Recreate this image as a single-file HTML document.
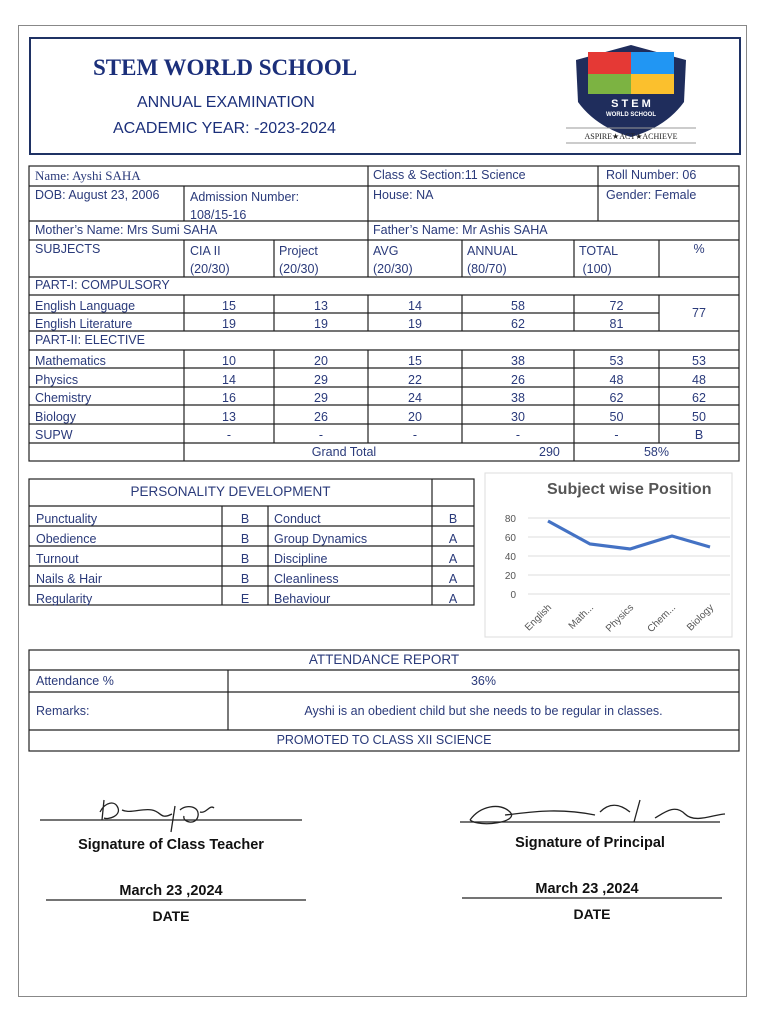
<!DOCTYPE html>
<html><head><style>
body{margin:0;width:768px;height:1024px;background:#fff;position:relative;font-family:"Liberation Sans",sans-serif;color:#1f2d6b;overflow:hidden}
.a{position:absolute}
.t{font-size:12.5px;color:#2a3a7a;white-space:nowrap}
.c{text-align:center}
</style></head><body>
<div class="a" style="left:18px;top:25px;width:727px;height:970px;border:1.5px solid #888"></div>
<div class="a" style="left:29px;top:37px;width:708px;height:114px;border:2px solid #1f3264"></div>
<div class="a" style="left:93px;top:55px;font-family:'Liberation Serif',serif;font-size:23px;font-weight:bold;color:#1b2f7a">STEM WORLD SCHOOL</div>
<div class="a" style="left:137px;top:94px;font-size:16px;color:#1b2f7a">ANNUAL EXAMINATION</div>
<div class="a" style="left:113px;top:120px;font-size:16px;color:#1b2f7a">ACADEMIC YEAR: -2023-2024</div>
<svg class="a" style="left:566px;top:42px" width="130" height="104">
<path d="M10 18 L65 3 L120 18 L118 60 Q100 85 65 95 Q30 85 12 60Z" fill="#1f2d5c"/>
<rect x="22" y="10" width="43" height="22" fill="#e53935"/><rect x="65" y="10" width="43" height="22" fill="#2196f3"/>
<rect x="22" y="32" width="43" height="20" fill="#7cb342"/><rect x="65" y="32" width="43" height="20" fill="#fbc02d"/>
<text x="65" y="65" font-size="11" font-weight="bold" fill="#fff" text-anchor="middle" font-family="Liberation Sans">S T E M</text>
<text x="65" y="74" font-size="6" font-weight="bold" fill="#fff" text-anchor="middle" font-family="Liberation Sans">WORLD SCHOOL</text>
<line x1="0" y1="86" x2="130" y2="86" stroke="#999"/>
<text x="65" y="97" font-size="8" fill="#222" text-anchor="middle" font-family="Liberation Serif">ASPIRE★ACT★ACHIEVE</text>
<line x1="0" y1="101" x2="130" y2="101" stroke="#999"/>
</svg>

<svg class="a" style="left:0;top:0" width="768" height="1024">
<g stroke="#222" stroke-width="1.2" fill="none">
<rect x="29" y="166" width="710" height="295"/>
<line x1="29" y1="186" x2="739" y2="186"/><line x1="29" y1="221" x2="739" y2="221"/><line x1="29" y1="240" x2="739" y2="240"/>
<line x1="29" y1="277" x2="739" y2="277"/><line x1="29" y1="295" x2="739" y2="295"/><line x1="29" y1="313" x2="659" y2="313"/>
<line x1="29" y1="331" x2="739" y2="331"/><line x1="29" y1="350" x2="739" y2="350"/><line x1="29" y1="368" x2="739" y2="368"/>
<line x1="29" y1="387" x2="739" y2="387"/><line x1="29" y1="405" x2="739" y2="405"/><line x1="29" y1="424" x2="739" y2="424"/>
<line x1="29" y1="443" x2="739" y2="443"/>
<line x1="368" y1="166" x2="368" y2="277"/><line x1="598" y1="166" x2="598" y2="221"/><line x1="184" y1="186" x2="184" y2="221"/>
<line x1="184" y1="240" x2="184" y2="277"/><line x1="274" y1="240" x2="274" y2="277"/><line x1="462" y1="240" x2="462" y2="277"/><line x1="574" y1="240" x2="574" y2="277"/><line x1="659" y1="240" x2="659" y2="277"/>
<path d="M184 295V331M274 295V331M368 295V331M462 295V331M574 295V331M659 295V331"/>
<path d="M184 350V443M274 350V443M368 350V443M462 350V443M574 350V443M659 350V443"/>
<path d="M184 443V461M574 443V461"/>
<rect x="29" y="479" width="445" height="126"/>
<line x1="29" y1="506" x2="474" y2="506"/><line x1="29" y1="526" x2="474" y2="526"/><line x1="29" y1="546" x2="474" y2="546"/><line x1="29" y1="566" x2="474" y2="566"/><line x1="29" y1="586" x2="474" y2="586"/>
<line x1="432" y1="479" x2="432" y2="605"/><line x1="222" y1="506" x2="222" y2="605"/><line x1="268" y1="506" x2="268" y2="605"/>
<rect x="29" y="650" width="710" height="101"/>
<line x1="29" y1="670" x2="739" y2="670"/><line x1="29" y1="692" x2="739" y2="692"/><line x1="29" y1="730" x2="739" y2="730"/>
<line x1="228" y1="670" x2="228" y2="730"/>
<line x1="40" y1="820" x2="302" y2="820"/><line x1="460" y1="822" x2="720" y2="822"/>
<line x1="46" y1="900" x2="306" y2="900"/><line x1="462" y1="898" x2="722" y2="898"/>
</g>
<rect x="485" y="473" width="247" height="164" fill="none" stroke="#ddd"/>
<g stroke="#ddd"><line x1="528" y1="518" x2="730" y2="518"/><line x1="528" y1="537" x2="730" y2="537"/><line x1="528" y1="556" x2="730" y2="556"/><line x1="528" y1="575" x2="730" y2="575"/><line x1="528" y1="594" x2="730" y2="594"/></g>
<polyline points="548,521 590,544 630,549 672,536 710,547" fill="none" stroke="#4472c4" stroke-width="3.2"/>
<g font-family="Liberation Sans" font-size="10" fill="#555">
<text x="516" y="522" text-anchor="end">80</text><text x="516" y="541" text-anchor="end">60</text><text x="516" y="560" text-anchor="end">40</text><text x="516" y="579" text-anchor="end">20</text><text x="516" y="598" text-anchor="end">0</text>
<text transform="translate(552,608) rotate(-45)" text-anchor="end">English</text>
<text transform="translate(594,608) rotate(-45)" text-anchor="end">Math...</text>
<text transform="translate(634,608) rotate(-45)" text-anchor="end">Physics</text>
<text transform="translate(676,608) rotate(-45)" text-anchor="end">Chem...</text>
<text transform="translate(714,608) rotate(-45)" text-anchor="end">Biology</text>
</g>
<text x="547" y="494" font-family="Liberation Sans" font-size="16" font-weight="bold" fill="#555">Subject wise Position</text>
<path d="M100 812c5-10 15-12 18-4s-10 12-14 10M104 800l-2 20M122 810c8 4 20-2 30 0s8 10 20 4M175 806l-4 26M180 810c6-6 20-4 18 6s-16 6-14 0M200 812c6 2 10-8 14-4" stroke="#222" fill="none" stroke-width="1.3"/>
<path d="M470 820c10-14 30-18 40-8s-30 16-40 8M505 815c20-2 50-8 90 0M600 812c10-10 20-8 30 0M640 800l-6 22M655 818c10-6 20-14 30-4s30 0 40 0" stroke="#222" fill="none" stroke-width="1.3"/>
</svg>

<div class="a t" style="left:35px;top:168px;font-family:'Liberation Serif',serif;font-size:13px">Name: Ayshi SAHA</div>
<div class="a t" style="left:373px;top:168px">Class &amp; Section:11 Science</div>
<div class="a t" style="left:606px;top:168px">Roll Number: 06</div>
<div class="a t" style="left:35px;top:188px">DOB: August 23, 2006</div>
<div class="a t" style="left:190px;top:188px;line-height:18px">Admission Number:<br>108/15-16</div>
<div class="a t" style="left:373px;top:188px">House: NA</div>
<div class="a t" style="left:606px;top:188px">Gender: Female</div>
<div class="a t" style="left:35px;top:223px">Mother’s Name: Mrs Sumi SAHA</div>
<div class="a t" style="left:373px;top:223px">Father’s Name: Mr Ashis SAHA</div>
<div class="a t" style="left:35px;top:242px">SUBJECTS</div>
<div class="a t" style="left:190px;top:242px;line-height:18px">CIA II<br>(20/30)</div>
<div class="a t" style="left:279px;top:242px;line-height:18px">Project<br>(20/30)</div>
<div class="a t" style="left:373px;top:242px;line-height:18px">AVG<br>(20/30)</div>
<div class="a t" style="left:467px;top:242px;line-height:18px">ANNUAL<br>(80/70)</div>
<div class="a t" style="left:579px;top:242px;line-height:18px">TOTAL<br>&nbsp;(100)</div>
<div class="a t c" style="left:659px;top:242px;width:80px">%</div>
<div class="a t" style="left:35px;top:278px">PART-I: COMPULSORY</div>
<div class="a t" style="left:35px;top:333px">PART-II: ELECTIVE</div>

<div class="a t c" style="left:659px;top:306px;width:80px">77</div>
<div class="a t c" style="left:184px;top:445px;width:320px">Grand Total</div>
<div class="a t" style="left:539px;top:445px">290</div>
<div class="a t c" style="left:574px;top:445px;width:165px">58%</div>

<div class="a t c" style="left:29px;top:484px;width:403px;font-size:13.5px">PERSONALITY DEVELOPMENT</div>
<div class="a t" style="left:36px;top:509px;line-height:20px">Punctuality<br>Obedience<br>Turnout<br>Nails &amp; Hair<br>Regularity</div>
<div class="a t c" style="left:222px;top:509px;width:46px;line-height:20px">B<br>B<br>B<br>B<br>E</div>
<div class="a t" style="left:274px;top:509px;line-height:20px">Conduct<br>Group Dynamics<br>Discipline<br>Cleanliness<br>Behaviour</div>
<div class="a t c" style="left:432px;top:509px;width:42px;line-height:20px">B<br>A<br>A<br>A<br>A</div>

<div class="a t c" style="left:29px;top:652px;width:710px;font-size:13.5px">ATTENDANCE REPORT</div>
<div class="a t" style="left:36px;top:674px">Attendance %</div>
<div class="a t c" style="left:228px;top:674px;width:511px">36%</div>
<div class="a t" style="left:36px;top:704px">Remarks:</div>
<div class="a t c" style="left:228px;top:704px;width:511px">Ayshi is an obedient child but she needs to be regular in classes.</div>
<div class="a t c" style="left:29px;top:733px;width:710px">PROMOTED TO CLASS XII SCIENCE</div>

<div class="a c" style="left:40px;top:837px;width:262px;font-size:14.5px;font-weight:bold;color:#111">Signature of Class Teacher</div>
<div class="a c" style="left:460px;top:835px;width:260px;font-size:14.5px;font-weight:bold;color:#111">Signature of Principal</div>
<div class="a c" style="left:46px;top:883px;width:250px;font-size:14.5px;font-weight:bold;color:#111">March 23 ,2024</div>
<div class="a c" style="left:462px;top:881px;width:250px;font-size:14.5px;font-weight:bold;color:#111">March 23 ,2024</div>
<div class="a c" style="left:46px;top:908px;width:250px;font-size:14px;font-weight:bold;color:#111">DATE</div>
<div class="a c" style="left:462px;top:906px;width:260px;font-size:14px;font-weight:bold;color:#111">DATE</div>

<div class="a t" style="left:35px;top:297px;line-height:18px">English Language<br>English Literature</div>
<div class="a t" style="left:35px;top:352px;line-height:18.6px">Mathematics<br>Physics<br>Chemistry<br>Biology<br>SUPW</div>
<div class="a t c" style="left:184px;top:297px;width:90px;line-height:18px">15<br>19</div>
<div class="a t c" style="left:274px;top:297px;width:94px;line-height:18px">13<br>19</div>
<div class="a t c" style="left:368px;top:297px;width:94px;line-height:18px">14<br>19</div>
<div class="a t c" style="left:462px;top:297px;width:112px;line-height:18px">58<br>62</div>
<div class="a t c" style="left:574px;top:297px;width:85px;line-height:18px">72<br>81</div>
<div class="a t c" style="left:184px;top:352px;width:90px;line-height:18.6px">10<br>14<br>16<br>13<br>-</div>
<div class="a t c" style="left:274px;top:352px;width:94px;line-height:18.6px">20<br>29<br>29<br>26<br>-</div>
<div class="a t c" style="left:368px;top:352px;width:94px;line-height:18.6px">15<br>22<br>24<br>20<br>-</div>
<div class="a t c" style="left:462px;top:352px;width:112px;line-height:18.6px">38<br>26<br>38<br>30<br>-</div>
<div class="a t c" style="left:574px;top:352px;width:85px;line-height:18.6px">53<br>48<br>62<br>50<br>-</div>
<div class="a t c" style="left:659px;top:352px;width:80px;line-height:18.6px">53<br>48<br>62<br>50<br>B</div>
</body></html>
